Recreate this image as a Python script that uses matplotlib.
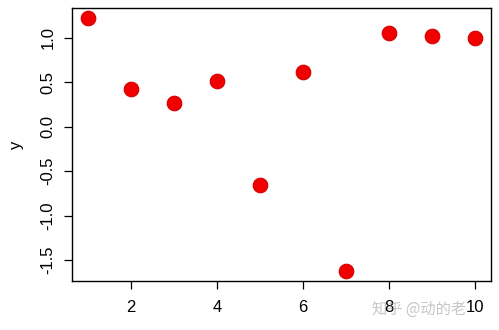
import numpy as np
import matplotlib.pyplot as plt

plt.rcParams["font.family"] = ["Liberation Sans", "DejaVu Sans"]

x_vals = [1, 2, 3, 4, 5, 6, 7, 8, 9, 10]
y_vals = [1.22, 0.42, 0.27, 0.515, -0.66, 0.615, -1.62, 1.055, 1.02, 1.00]
x_ticks = [2, 4, 6, 8, 10]
y_ticks = [-1.5, -1.0, -0.5, 0.0, 0.5, 1.0]

fig = plt.figure(figsize=(4.99, 3.30), dpi=100)
ax = fig.add_axes([72 / 499, 1 - 281 / 330, (491 - 72) / 499, (281 - 8) / 330])

ax.plot(x_vals, y_vals, linestyle="none", marker="o", markersize=10.5,
        color="#f20000", markeredgecolor="#d00000", markeredgewidth=0.8)

# R-style 4% padding
xr = max(x_vals) - min(x_vals)
yr = max(y_vals) - min(y_vals)
ax.set_xlim(min(x_vals) - 0.04 * xr, max(x_vals) + 0.04 * xr)
ax.set_ylim(min(y_vals) - 0.04 * yr, max(y_vals) + 0.04 * yr)

ax.set_xticks(x_ticks)
ax.set_xticklabels([str(t) for t in x_ticks], fontsize=12)
ax.set_yticks(y_ticks)
ax.set_yticklabels([f"{t:.1f}" for t in y_ticks], fontsize=12,
                   rotation=90, va="center")
ax.tick_params(direction="out", length=6, width=0.9, pad=6, colors="black")
ax.tick_params(axis="x", pad=8)
for s in ax.spines.values():
    s.set_linewidth(1.0)

ax.set_ylabel("y", fontsize=12, labelpad=12)

fig.text(372 / 499, 1 - 309 / 330, "知乎 @动的老",
         family=["Noto Sans CJK SC", "DejaVu Sans"], fontsize=11,
         color="#999999", alpha=0.55, va="center", ha="left")

fig.savefig("out.png", dpi=100)
